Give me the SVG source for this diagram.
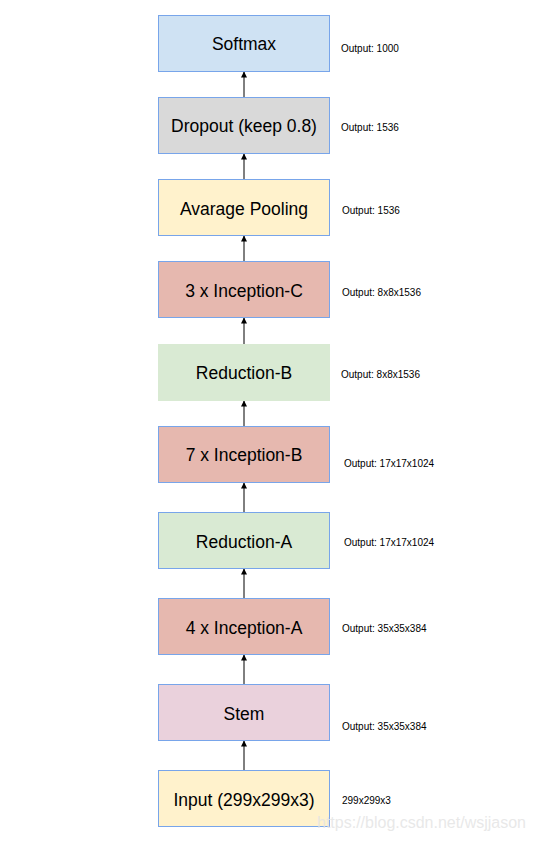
<svg xmlns="http://www.w3.org/2000/svg" width="534" height="841" viewBox="0 0 534 841">
<style>
.box{stroke:#78a5ea;stroke-width:1}
.nt{font-family:"Liberation Sans",Arial,sans-serif;font-size:17.5px;fill:#000;text-anchor:middle}
.lb{font-family:"Liberation Sans",Arial,sans-serif;font-size:10px;fill:#000}
.conn line{stroke:#000;stroke-width:1}
</style>
<defs>
<marker id="ah" markerWidth="6" markerHeight="7" refX="5.5" refY="3.5" orient="auto" markerUnits="userSpaceOnUse">
<path d="M0,0.5 L6,3.5 L0,6.5 Z" fill="#000"/>
</marker>
</defs>
<rect width="534" height="841" fill="#fff"/>
<g id="softmax"><rect class="box" x="158.5" y="15.5" width="171" height="56" fill="#cfe2f3"/><text class="nt" x="244" y="50">Softmax</text><text class="lb" x="341" y="52">Output: 1000</text></g>
<g id="dropout"><rect class="box" x="158.5" y="97.5" width="171" height="56" fill="#d9d9d9"/><text class="nt" x="244" y="132">Dropout (keep 0.8)</text><text class="lb" x="341" y="131">Output: 1536</text></g>
<g id="avgpool"><rect class="box" x="158.5" y="179.5" width="171" height="56" fill="#fff2cc"/><text class="nt" x="244" y="215">Avarage Pooling</text><text class="lb" x="342" y="214">Output: 1536</text></g>
<g id="inceptionC"><rect class="box" x="158.5" y="261.5" width="171" height="56" fill="#e6b8af"/><text class="nt" x="244" y="297">3 x Inception-C</text><text class="lb" x="342" y="296">Output: 8x8x1536</text></g>
<g id="reductionB"><rect x="158" y="344" width="172" height="57" fill="#d9ead3"/><text class="nt" x="244" y="379">Reduction-B</text><text class="lb" x="341" y="378">Output: 8x8x1536</text></g>
<g id="inceptionB"><rect class="box" x="158.5" y="426.5" width="171" height="56" fill="#e6b8af"/><text class="nt" x="244" y="461">7 x Inception-B</text><text class="lb" x="344" y="467">Output: 17x17x1024</text></g>
<g id="reductionA"><rect class="box" x="158.5" y="512.5" width="171" height="56" fill="#d9ead3"/><text class="nt" x="244" y="548">Reduction-A</text><text class="lb" x="344" y="546">Output: 17x17x1024</text></g>
<g id="inceptionA"><rect class="box" x="158.5" y="598.5" width="171" height="56" fill="#e6b8af"/><text class="nt" x="244" y="634">4 x Inception-A</text><text class="lb" x="342" y="632">Output: 35x35x384</text></g>
<g id="stem"><rect class="box" x="158.5" y="684.5" width="171" height="56" fill="#ead1dc"/><text class="nt" x="244" y="720">Stem</text><text class="lb" x="342" y="730">Output: 35x35x384</text></g>
<g id="input"><rect class="box" x="158.5" y="770.5" width="171" height="56" fill="#fff2cc"/><text class="nt" x="244" y="806">Input (299x299x3)</text><text class="lb" x="342" y="804">299x299x3</text></g>
<g class="conn">
<line x1="244" y1="97" x2="244" y2="72" marker-end="url(#ah)"/>
<line x1="244" y1="179" x2="244" y2="154" marker-end="url(#ah)"/>
<line x1="244" y1="261" x2="244" y2="236" marker-end="url(#ah)"/>
<line x1="244" y1="344" x2="244" y2="318" marker-end="url(#ah)"/>
<line x1="244" y1="426" x2="244" y2="401" marker-end="url(#ah)"/>
<line x1="244" y1="512" x2="244" y2="483" marker-end="url(#ah)"/>
<line x1="244" y1="598" x2="244" y2="569" marker-end="url(#ah)"/>
<line x1="244" y1="684" x2="244" y2="655" marker-end="url(#ah)"/>
<line x1="244" y1="770" x2="244" y2="741" marker-end="url(#ah)"/>
</g>
<text x="317" y="828" font-family="'Liberation Sans',Arial,sans-serif" font-size="16" fill="#e4e4e4" fill-opacity="0.85">https://blog.csdn.net/wsjjason</text>
</svg>
